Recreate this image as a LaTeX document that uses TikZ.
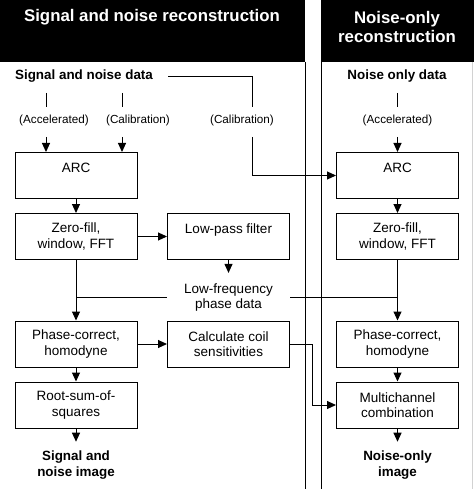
\documentclass[tikz,border=0pt]{standalone}
\usepackage{fontspec}
\setmainfont{Liberation Sans}
\usetikzlibrary{arrows.meta}
\begin{document}
\begin{tikzpicture}[x=1pt,y=-1pt,
  line width=1pt,
  arr/.style={-{Triangle[length=9pt,width=8pt]}},
  stepbox/.style={draw, minimum width=122pt, minimum height=46pt, inner sep=0pt,
    align=center, font=\fontsize{13.5}{15.6}\selectfont},
  hdr/.style={text=white, align=center, font=\fontsize{16.8}{19}\selectfont\bfseries},
  bold/.style={align=center, font=\fontsize{13.4}{16}\selectfont\bfseries},
  small/.style={font=\fontsize{11.7}{14}\selectfont, inner sep=0pt},
  plain/.style={align=center, font=\fontsize{13.5}{15.6}\selectfont}]
\useasboundingbox (0,0) rectangle (474,489);
% headers and panels
\fill[black] (0,0) rectangle (305,62);
\fill[black] (321,0) rectangle (474,62);
\draw (305,62) -- (305,489);
\draw (321,62) -- (321,489);
\draw[gray!35] (472,62) -- (472,489);
\node[hdr] (h1) at (152,17.5) {Signal and noise reconstruction};
\node[hdr] (h2) at (397,27) {Noise-only\\reconstruction};
% top labels
\node[bold] (snd) at (84,76.5) {Signal and noise data};
\node[bold] (nod) at (397,76.5) {Noise only data};
\node[small] (acc1) at (54,120) {(Accelerated)};
\node[small] (cal1) at (138,120) {(Calibration)};
\node[small] (cal2) at (242,120) {(Calibration)};
\node[small] (acc2) at (397.5,120) {(Accelerated)};
% boxes
\node[stepbox] (arcL) at (76,175.5) {ARC\\\phantom{A}};
\node[stepbox] (zfL) at (76,236.5) {Zero-fill,\\window, FFT};
\node[stepbox] (lpf) at (228.5,236.5) {Low-pass filter\\\phantom{A}};
\node[stepbox] (arcR) at (397.5,175.5) {ARC\\\phantom{A}};
\node[stepbox] (zfR) at (397.5,236.5) {Zero-fill,\\window, FFT};
\node[stepbox] (pcL) at (76,344) {Phase-correct,\\homodyne};
\node[stepbox] (ccs) at (228.5,344) {Calculate coil\\sensitivities};
\node[stepbox] (pcR) at (397.5,344) {Phase-correct,\\homodyne};
\node[stepbox] (rss) at (76,405) {Root-sum-of-\\squares};
\node[stepbox] (mcc) at (397.5,405) {Multichannel\\combination};
\node[plain, minimum width=122pt, inner xsep=0pt, inner ysep=10pt] (lf) at (228.5,297.5) {Low-frequency\\phase data};
\node[bold, inner ysep=8.5pt] (out1) at (76,465) {Signal and\\noise image};
\node[bold, inner ysep=8.5pt] (out2) at (397.5,465) {Noise-only\\image};
% coordinates for free ends
\coordinate (a1) at (46,93); \coordinate (a2) at (46,107);
\coordinate (a3) at (46,137);
\coordinate (b1) at (122,93); \coordinate (b2) at (122,107);
\coordinate (b3) at (122,137);
\coordinate (c1) at (168,77); \coordinate (c2) at (252,107);
\coordinate (c3) at (252,137);
\coordinate (d1) at (397.5,93); \coordinate (d2) at (397.5,107);
\coordinate (d3) at (397.5,137);
% connectors
\draw (a1) -- (a2);
\draw (b1) -- (b2);
\draw (c1) -| (c2);
\draw (d1) -- (d2);
\draw[arr] (a3) -- (a3 |- arcL.north);
\draw[arr] (b3) -- (b3 |- arcL.north);
\draw[arr] (c3) |- (arcR.west);
\draw[arr] (d3) -- (arcR.north);
\draw[arr] (arcL) -- (zfL);
\draw[arr] (arcR) -- (zfR);
\draw[arr] (zfL) -- (lpf);
\draw[arr] (lpf) -- (lf.north);
\draw[arr] (zfL) -- (pcL);
\draw[arr] (zfR) -- (pcR);
\draw (zfL.south |- lf.west) -- (lf.west);
\draw (lf.east) -- (zfR.south |- lf.east);
\draw[arr] (pcL) -- (ccs);
\draw[arr] (pcL) -- (rss);
\draw[arr] (pcR) -- (mcc);
\draw[arr] (ccs.east) -- ++(22.5,0) |- (mcc.west);
\draw[arr] (rss) -- (out1.north);
\draw[arr] (mcc) -- (out2.north);
\end{tikzpicture}
\end{document}
